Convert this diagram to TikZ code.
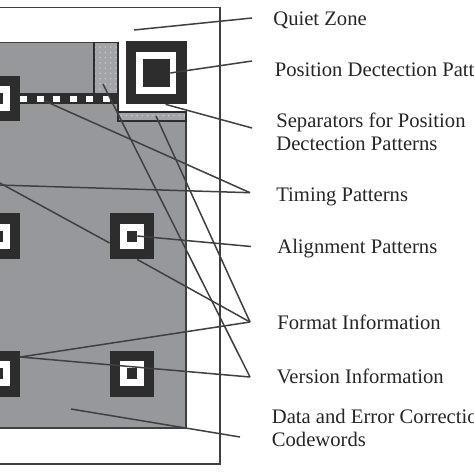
\documentclass[tikz,border=0pt]{standalone}
\usepackage{fontspec}
\setmainfont{Liberation Serif}
\usepackage{xcolor}
\usetikzlibrary{patterns, positioning}
\definecolor{qrdark}{HTML}{2E2D2E}
\definecolor{qrgray}{HTML}{97989B}
\definecolor{qrline}{HTML}{404041}

\begin{document}
\begin{tikzpicture}[
    x=0.02cm, y=-0.02cm,
    font=\fontsize{11.75}{13}\selectfont,
    outline/.style={draw=qrline, line width=0.3mm},
    patch/.style={fill=qrgray!88!white, postaction={pattern=dots, pattern color=white!45!qrgray}},
    patchedge/.style={draw=qrdark, line width=0.3mm},
    blackbox/.style={fill=qrdark, inner sep=0pt},
    whitebox/.style={fill=white, inner sep=0pt},
    lab/.style={anchor=base west, inner sep=0pt, align=left, text=black!85},
    lead/.style={draw=qrline, line width=0.3mm}
]
\useasboundingbox (0,0) rectangle (474,474);
\fill[white] (0,0) rectangle (474,474);

% symbol frame and data area
\draw[outline] (-5,7.5) rectangle (220,464);
\draw[outline, fill=qrgray] (-5,42.5) -- (118,42.5) -- (118,121) -- (186,121)
    -- (186,428) -- (-5,428) -- cycle;

% format areas
\path[patch] (94,42.5) rectangle (118,93);
\path[patch] (118,112) rectangle (186,121);
\draw[patchedge] (94,93) -- (94,42.5) -- (118,42.5) -- (118,121) -- (186,121) -- (186,112) -- (118,112);

% finder pattern
\node[blackbox, minimum width=12.2mm, minimum height=12.6mm] (finder) at (156.5,72.5) {};
\node[whitebox, minimum width=8mm, minimum height=8.4mm] (finderring) at (156,73) {};
\node[blackbox, minimum width=5.4mm, minimum height=5.6mm] (findercore) at (156.5,73) {};

% timing strip
\fill[qrdark] (-5,93) rectangle (118,104);
\foreach \x in {20,37,53,70,86,103}
    \node[whitebox, minimum width=1.3mm, minimum height=1.3mm] (timing\x) at (\x+3.3,99) {};

% alignment patterns
\foreach \n/\x/\y in {a/-2/98.5, b/-2/236, c/132/236, d/-2/373.5, e/132/373.5} {
    \node[blackbox, minimum width=8.8mm, minimum height=9.2mm] (align\n) at (\x,\y) {};
    \node[whitebox, minimum width=4.8mm, minimum height=5mm] (ring\n) at (\x,\y) {};
    \node[blackbox, minimum width=2mm, minimum height=2.2mm] (core\n) at (\x,\y) {};
}

% labels
\node[lab] (quiet)   at (273,25)    {Quiet Zone};
\node[lab] (posdet)  at (274.5,76)  {Position Dectection Patt};
\node[lab] (sep)     at (276,150)   {Separators for Position\\Dectection Patterns};
\node[lab] (timing)  at (276,201)   {Timing Patterns};
\node[lab] (alignl)  at (277,253)   {Alignment Patterns};
\node[lab] (format)  at (277,329)   {Format Information};
\node[lab] (version) at (276.5,383) {Version Information};
\node[lab] (data)    at (271.5,446) {Data and Error Correctio\\Codewords};

% free ends of the leaders
\coordinate (quietend)  at (134,30);
\coordinate (quiettip)  at (252,18);
\coordinate (postip)    at (252,61);
\coordinate (septip)    at (252,128);
\coordinate (timetip)   at (250,192.7);
\coordinate (aligntip)  at (251,246.5);
\coordinate (formtip)   at (250,322);
\coordinate (verstip)   at (250,377);
\coordinate (formpatch) at (156,116);
\coordinate (verspatch) at (103,84);
\coordinate (dataend)   at (71,409);
\coordinate (datatip)   at (240,437);
\coordinate (leftup)    at (-2,182);
\coordinate (leftflat)  at (-2,185);

% leaders
\draw[lead] (quietend) -- (quiettip);
\draw[lead] (findercore.east) -- (postip);
\draw[lead] (finder.south) ++(9,0) -- (septip);
\draw[lead] (timing37) -- (timetip);
\draw[lead] (leftflat) -- (timetip);
\draw[lead] (corec.east) -- (aligntip);
\draw[lead] ([yshift=-1.4mm]alignc.west) -- (leftup);
\draw[lead] (alignc.south) ++(5,0) -- (formtip);
\draw[lead] (formpatch) -- (formtip);
\draw[lead] ([yshift=3.3mm]alignd.east) -- (formtip);
\draw[lead] (verspatch) -- (verstip);
\draw[lead] ([yshift=3.3mm]alignd.east) -- (verstip);
\draw[lead] (dataend) -- (datatip);

\end{tikzpicture}
\end{document}
